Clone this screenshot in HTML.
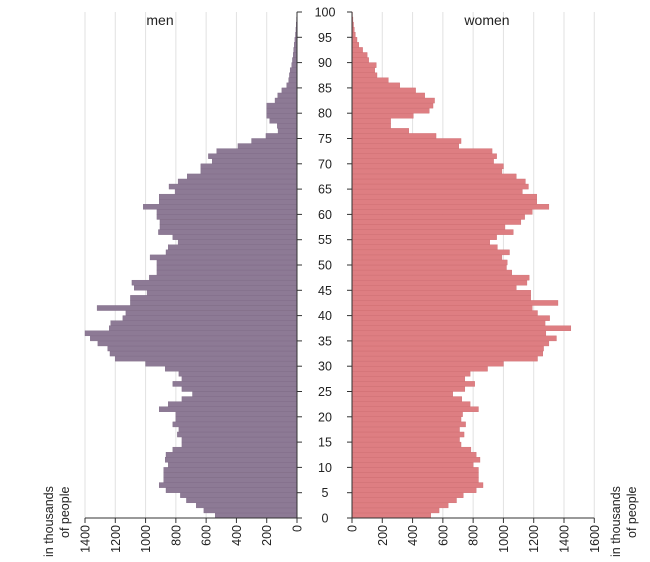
<!DOCTYPE html>
<html><head><meta charset="utf-8"><style>
html,body{margin:0;padding:0;background:#fff;overflow:hidden;}
svg{display:block;font-family:"Liberation Sans",sans-serif;}
</style></head><body>
<svg id="chart" width="650" height="562" viewBox="0 0 650 562"></svg>
<script>
const ages = Array.from({length:100},(_,i)=>i);
const menValues = [540,615,665,730,770,865,910,880,880,880,850,870,865,820,760,760,790,780,820,800,800,910,850,760,690,760,820,760,780,870,1000,1200,1235,1250,1315,1365,1400,1240,1230,1150,1130,1320,1100,1100,990,1075,1090,975,925,925,925,970,865,850,785,820,915,905,905,925,925,1015,910,910,805,845,785,725,635,635,560,585,530,390,300,205,125,130,180,200,200,200,145,127,100,68,55,50,45,35,30,25,22,18,14,10,7,5,3,2];
const womenValues = [520,575,635,690,735,820,865,835,835,835,800,845,820,785,720,710,740,710,750,720,730,835,780,725,665,745,810,745,780,895,1000,1225,1260,1265,1300,1350,1280,1445,1275,1305,1225,1190,1360,1180,1180,1085,1155,1170,1055,1020,1025,990,1040,960,910,955,1065,1010,1115,1140,1190,1300,1220,1220,1125,1165,1145,1085,990,1000,935,955,925,705,720,555,375,255,255,405,510,535,545,480,420,315,240,165,150,160,110,100,70,45,33,22,15,10,6,3];
const menTicks = [0,200,400,600,800,1000,1200,1400];
const womenTicks = [0,200,400,600,800,1000,1200,1400,1600];
const ageTicks = [0,5,10,15,20,25,30,35,40,45,50,55,60,65,70,75,80,85,90,95,100];

const NS="http://www.w3.org/2000/svg";
const svg=document.getElementById('chart');
function mk(tag,attrs,parent){const e=document.createElementNS(NS,tag);for(const k in attrs)e.setAttribute(k,attrs[k]);(parent||svg).appendChild(e);return e;}
const K=212/1400;
const xMen=v=>297-v*K;
const xWomen=v=>352+v*K;
const yAge=a=>518-a*5.06;
const TOP=12, BASE=518;

menTicks.forEach(t=>{if(t===0)return;const g=mk('line',{x1:xMen(t),x2:xMen(t),y1:TOP,y2:BASE,stroke:'#e2e2e2','stroke-width':1});

});
womenTicks.forEach(t=>{if(t===0)return;const g=mk('line',{x1:xWomen(t),x2:xWomen(t),y1:TOP,y2:BASE,stroke:'#e2e2e2','stroke-width':1});

});

const tm=mk('text',{x:160,y:25,'font-size':14,'text-anchor':'middle',fill:'#222'});tm.textContent='men';


const tw=mk('text',{x:487,y:25,'font-size':14,'text-anchor':'middle',fill:'#222'});tw.textContent='women';



ages.forEach((a,i)=>{
  const y=yAge(a+1),h=yAge(a)-yAge(a+1);
  const m=mk('rect',{x:xMen(menValues[i]),y:y,width:menValues[i]*K,height:h,fill:'#8d7a95',stroke:'#7d6985','stroke-width':0.4});
  
  
  const w=mk('rect',{x:xWomen(0),y:y,width:womenValues[i]*K,height:h,fill:'#de7e82',stroke:'#cc6c70','stroke-width':0.4});
  
  
});

const am=mk('line',{x1:297,x2:297,y1:TOP,y2:BASE,stroke:'#333','stroke-width':1});


const aw=mk('line',{x1:352,x2:352,y1:TOP,y2:BASE,stroke:'#333','stroke-width':1});


ageTicks.forEach(t=>{
  const y=yAge(t);
  mk('line',{x1:297,x2:302,y1:y,y2:y,stroke:'#333','stroke-width':1});
  mk('line',{x1:347,x2:352,y1:y,y2:y,stroke:'#333','stroke-width':1});
  const l=mk('text',{x:325,y:y+4.5,'font-size':12.5,'text-anchor':'middle',fill:'#222'});
  l.textContent=t;
  
  
});

const xm=mk('line',{x1:xMen(1400),x2:297,y1:BASE,y2:BASE,stroke:'#333','stroke-width':1});


const xw=mk('line',{x1:352,x2:xWomen(1600),y1:BASE,y2:BASE,stroke:'#333','stroke-width':1});


function xTick(x,t,name){
  mk('line',{x1:x,x2:x,y1:BASE,y2:BASE+5,stroke:'#333','stroke-width':1});
  const l=mk('text',{x:0,y:0,'font-size':12.5,'text-anchor':'end',fill:'#222',transform:'translate('+(x+4.5)+','+(BASE+7)+') rotate(-90)'});
  l.textContent=t;
  
  
}
menTicks.forEach(t=>xTick(xMen(t),t,'men-x-tick-label'));
womenTicks.forEach(t=>xTick(xWomen(t),t,'women-x-tick-label'));

function unitLabel(x,name){
  const g=mk('text',{x:0,y:0,'font-size':12.5,'text-anchor':'start',fill:'#222',transform:'translate('+x+',557) rotate(-90)'});
  g.textContent='in thousands';
  
  
  const h=mk('text',{x:0,y:0,'font-size':12.5,'text-anchor':'start',fill:'#222',transform:'translate('+(x+16)+',538) rotate(-90)'});
  h.textContent='of people';
  
  
}
unitLabel(53,'men-unit-label');
unitLabel(620,'women-unit-label');
</script>
</body></html>
